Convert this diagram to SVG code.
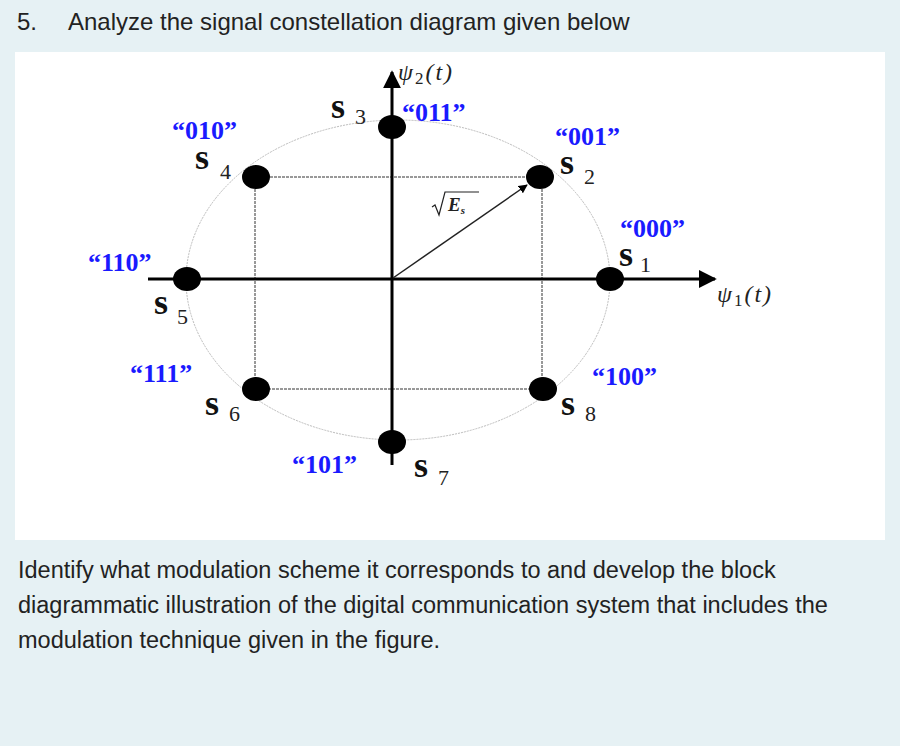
<svg xmlns="http://www.w3.org/2000/svg" width="900" height="746" viewBox="0 0 900 746">
<defs>
<style>
.t{font-family:"Liberation Sans",Arial,sans-serif;fill:#222}
.b{font-family:"Liberation Serif","Times New Roman",serif;font-weight:bold;fill:#1a1aff}
.s{font-family:"Liberation Serif","Times New Roman",serif;font-weight:bold;fill:#111}
.sub{font-family:"Liberation Serif",serif;fill:#222}
.psi{font-family:"Liberation Serif",serif;font-style:italic;fill:#222}
.dot{fill:#000}
.dash{stroke:#333;stroke-width:1;stroke-dasharray:3,1;fill:none}
</style>
<marker id="ah" viewBox="0 0 10 10" refX="9" refY="5" markerWidth="6" markerHeight="6" orient="auto"><path d="M0,0L10,5L0,10z" fill="#000"/></marker>
</defs>
<rect width="900" height="746" fill="#e6f1f4"/>
<rect x="15" y="52" width="870" height="488" fill="#fff"/>
<text class="t" font-size="24" x="17" y="30">5.</text>
<text class="t" font-size="24" x="68" y="30">Analyze the signal constellation diagram given below</text>
<g id="connectors">
<ellipse cx="398" cy="280" rx="212" ry="160" fill="none" stroke="#bbb" stroke-width="1" stroke-dasharray="2,1"/>
<path class="dash" d="M258,177H540M256,389H543M255,177V389M542,177V389"/>
<line x1="148" y1="279" x2="715" y2="279" stroke="#000" stroke-width="3" marker-end="url(#ah)"/>
<line x1="392" y1="465" x2="392" y2="72" stroke="#000" stroke-width="3" marker-end="url(#ah)"/>
<line x1="393" y1="278" x2="527" y2="185" stroke="#222" stroke-width="1.5" marker-end="url(#ah)"/>
</g>
<g id="s1"><ellipse class="dot" cx="610" cy="279" rx="14" ry="12"/><text class="b" font-size="26" x="620" y="237">“000”</text><text class="s" font-size="36" x="619" y="266">s</text><text class="sub" font-size="22" x="640" y="272">1</text></g>
<g id="s2"><ellipse class="dot" cx="540" cy="177" rx="14" ry="12"/><text class="b" font-size="26" x="555" y="145">“001”</text><text class="s" font-size="36" x="560" y="174">s</text><text class="sub" font-size="22" x="584" y="184">2</text></g>
<g id="s3"><ellipse class="dot" cx="392" cy="127" rx="14" ry="12"/><text class="b" font-size="26" x="402" y="121">“011”</text><text class="s" font-size="36" x="331" y="118">s</text><text class="sub" font-size="22" x="355" y="124">3</text></g>
<g id="s4"><ellipse class="dot" cx="256" cy="177" rx="14" ry="12"/><text class="b" font-size="26" x="172" y="139">“010”</text><text class="s" font-size="36" x="195" y="169">s</text><text class="sub" font-size="22" x="220" y="179">4</text></g>
<g id="s5"><ellipse class="dot" cx="187" cy="279" rx="14" ry="12"/><text class="b" font-size="26" x="88" y="271">“110”</text><text class="s" font-size="36" x="154" y="314">s</text><text class="sub" font-size="22" x="177" y="324">5</text></g>
<g id="s6"><ellipse class="dot" cx="256" cy="389" rx="14" ry="12"/><text class="b" font-size="26" x="130" y="382">“111”</text><text class="s" font-size="36" x="205" y="415">s</text><text class="sub" font-size="22" x="229" y="421">6</text></g>
<g id="s7"><ellipse class="dot" cx="392" cy="442" rx="14" ry="12"/><text class="b" font-size="26" x="292" y="473">“101”</text><text class="s" font-size="36" x="414" y="477">s</text><text class="sub" font-size="22" x="438" y="485">7</text></g>
<g id="s8"><ellipse class="dot" cx="543" cy="389" rx="14" ry="12"/><text class="b" font-size="26" x="592" y="385">“100”</text><text class="s" font-size="36" x="561" y="415">s</text><text class="sub" font-size="22" x="585" y="421">8</text></g>
<g id="labels">
<text class="psi" font-size="24" letter-spacing="2" x="398" y="80">ψ<tspan font-style="normal" font-size="17" dy="4">2</tspan><tspan dy="-4">(t)</tspan></text>
<text class="psi" font-size="24" letter-spacing="2" x="717" y="302">ψ<tspan font-style="normal" font-size="17" dy="4">1</tspan><tspan dy="-4">(t)</tspan></text>
<path d="M432,207l3,-2l4,10l6,-23h34" fill="none" stroke="#222" stroke-width="1.2"/>
<text x="448" y="211" font-family="Liberation Serif,serif" font-style="italic" font-weight="bold" font-size="19" fill="#222">E<tspan font-size="11" dy="3">s</tspan></text>
</g>
<text class="t" font-size="23.5" x="18" y="578">Identify what modulation scheme it corresponds to and develop the block</text>
<text class="t" font-size="23.5" x="18" y="613">diagrammatic illustration of the digital communication system that includes the</text>
<text class="t" font-size="23.5" x="18" y="648">modulation technique given in the figure.</text>
</svg>
